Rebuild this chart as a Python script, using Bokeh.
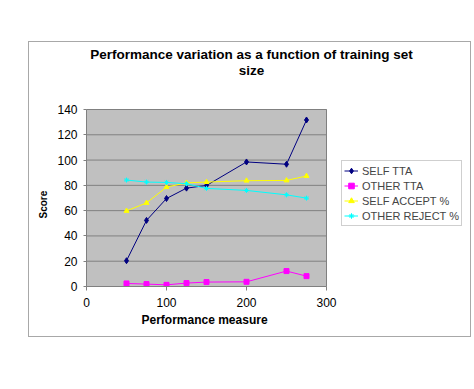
from bokeh.plotting import figure
from bokeh.models import Range1d, Legend, LegendItem, Label, Title, FixedTicker
from bokeh.embed import file_html
from bokeh.resources import INLINE

# ---- data ----
training_size = [50, 75, 100, 125, 150, 200, 250, 275]
self_tta = [20.4, 52.3, 69.6, 77.8, 79.9, 98.5, 96.7, 131.7]
other_tta = [2.4, 1.9, 1.3, 2.7, 3.5, 3.7, 12.2, 8.2]
self_accept = [59.8, 66.1, 78.6, 82.0, 82.6, 83.7, 83.9, 87.4]
other_reject = [84.2, 82.6, 82.3, 81.3, 77.6, 76.0, 72.5, 69.9]
series_names = ["SELF TTA", "OTHER TTA", "SELF ACCEPT %", "OTHER REJECT %"]
x_ticks = [0, 100, 200, 300]
y_ticks = [0, 20, 40, 60, 80, 100, 120, 140]
title_lines = ["Performance variation as a function of training set", "size"]
x_label = "Performance measure"
y_label = "Score"

FONT = "Liberation Sans"

# layout (pixels): chart box 443x296; plot area 240x177 at (57, 67) inside it
W, H = 443, 296
MB_L, MB_R, MB_T, MB_B = 57, 2, 2, 52
PLOT_W, PLOT_H = 240, 177
frame_w = W - MB_L - MB_R
frame_h = H - MB_T - MB_B
x_end = x_ticks[-1] * frame_w / PLOT_W
y_end = y_ticks[-1] * frame_h / PLOT_H

p = figure(width=W, height=H, output_backend="svg", toolbar_location=None,
           x_range=Range1d(0, x_end), y_range=Range1d(0, y_end),
           margin=(41, 0, 0, 28),
           styles={"border": "1px solid #A8A8A8"},
           min_border_left=MB_L, min_border_right=MB_R,
           min_border_top=MB_T, min_border_bottom=MB_B)
p.background_fill_color = "white"
p.border_fill_color = "white"
p.outline_line_color = None
p.xgrid.visible = False
p.ygrid.visible = False

# grey plot area and horizontal gridlines
p.quad(left=x_ticks[0], right=x_ticks[-1], bottom=y_ticks[0], top=y_ticks[-1],
       fill_color="#C0C0C0", line_color="#808080", line_width=1)
p.segment(x0=[x_ticks[0]] * len(y_ticks), x1=[x_ticks[-1]] * len(y_ticks),
          y0=y_ticks, y1=y_ticks, line_color="#808080", line_width=1)

for ax in (p.xaxis[0], p.yaxis[0]):
    ax.axis_line_color = "#808080"
    ax.major_tick_line_color = "#808080"
    ax.minor_tick_line_color = None
    ax.major_tick_in = 0
    ax.major_label_text_font = FONT
    ax.major_label_text_font_size = "12px"
    ax.major_label_text_color = "black"

p.xaxis.bounds = (x_ticks[0], x_ticks[-1])
p.yaxis.bounds = (y_ticks[0], y_ticks[-1])
p.xaxis.ticker = FixedTicker(ticks=x_ticks)
p.yaxis.ticker = FixedTicker(ticks=y_ticks)
p.xaxis.major_tick_out = 4
p.yaxis.major_tick_out = 3
p.xaxis.major_label_standoff = 7
p.yaxis.major_label_standoff = 6

# axis titles, centred on the grey plot area
p.add_layout(Title(text=x_label, align="left", offset=55, standoff=2,
                   text_font=FONT, text_font_style="bold", text_font_size="12px",
                   text_color="black"), "below")
p.add_layout(Title(text=y_label, align="left", offset=68, standoff=12,
                   text_font=FONT, text_font_style="bold", text_font_size="10px",
                   text_color="black"), "left")

styles = [
    ("#000080", "diamond", 6),
    ("#FF00FF", "square", 5),
    ("#FFFF00", "triangle", 5),
    ("#00FFFF", "asterisk", 5),
]
values = [self_tta, other_tta, self_accept, other_reject]
items = []
for name, ys, (col, mk, sz) in zip(series_names, values, styles):
    ln = p.line(training_size, ys, line_color=col, line_width=1)
    sc = p.scatter(training_size, ys, marker=mk, size=sz, fill_color=col, line_color=col)
    items.append(LegendItem(label=name, renderers=[ln, sc]))

legend = Legend(items=items, location=(255, 60), margin=0, padding=2,
                spacing=0, label_height=15, glyph_height=15, glyph_width=14,
                label_standoff=4, label_text_font=FONT, label_text_font_size="11px",
                border_line_color="#A0A0A0", background_fill_color="white",
                background_fill_alpha=1.0)
p.add_layout(legend, "center")

# title lines, placed in the white area above the plot (screen px from plot bottom-left)
for i, t in enumerate(title_lines):
    p.add_layout(Label(x=165, y=232 - 16 * i, x_units="screen", y_units="screen",
                       text=t, text_align="center", text_baseline="middle",
                       text_font=FONT, text_font_style="bold", text_font_size="13.5px",
                       text_color="black"))

open("out.html", "w").write(file_html(p, INLINE))
